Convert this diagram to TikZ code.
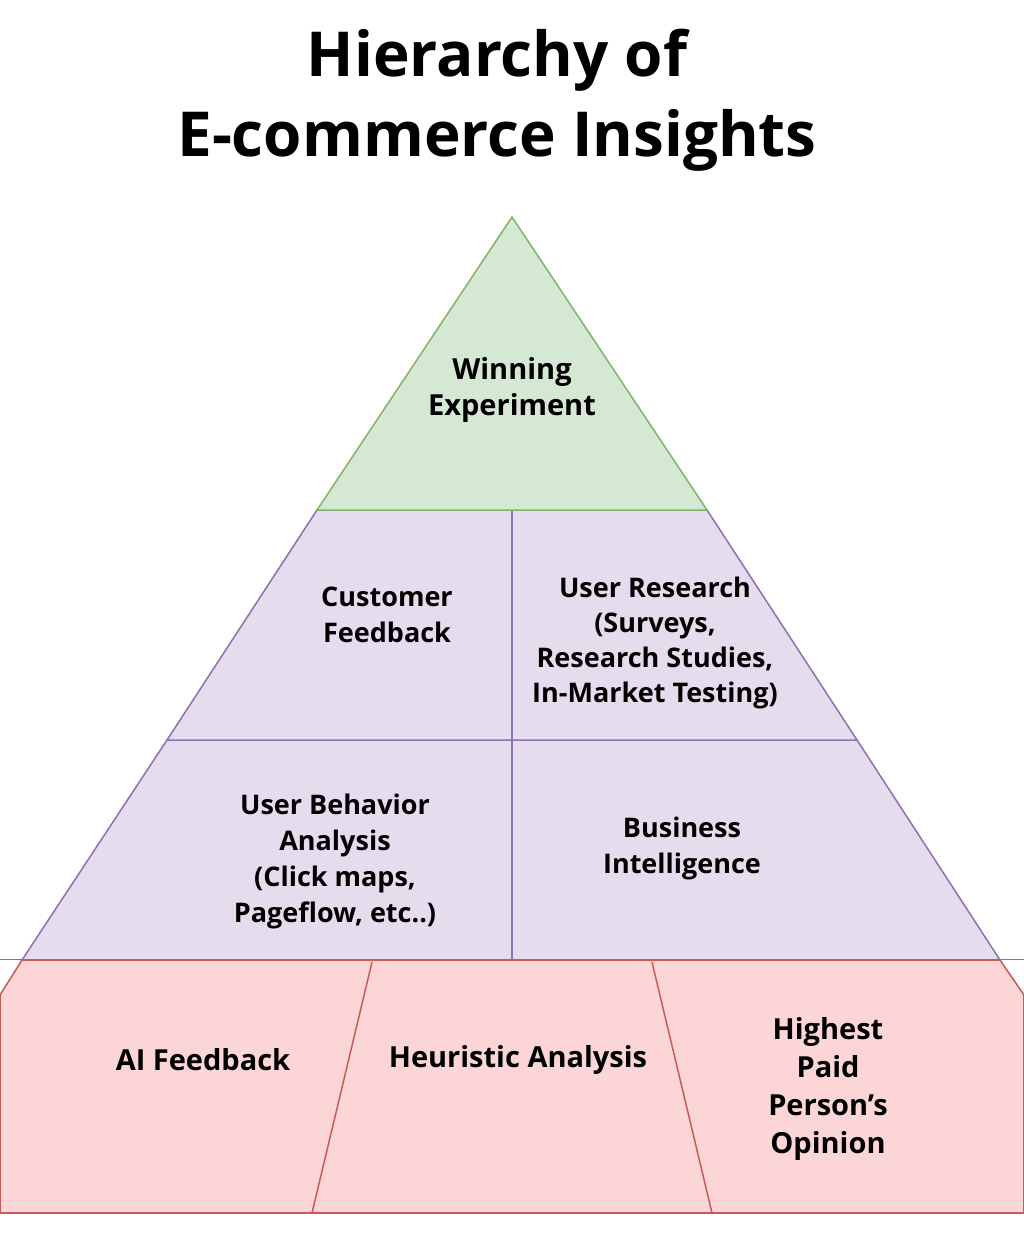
\documentclass[tikz,border=0pt]{standalone}
\usepackage{fontspec}
\setmainfont{Open Sans}
\definecolor{gf}{HTML}{D5E8D4}\definecolor{gd}{HTML}{82B366}
\definecolor{pf}{HTML}{E5DCEE}\definecolor{pd}{HTML}{8C72B0}
\definecolor{rf}{HTML}{FCD6D6}\definecolor{rd}{HTML}{C85A58}
\begin{document}
\begin{tikzpicture}[x=1pt,y=-1pt,
  lbl/.style={align=center,font=\fontsize{29}{36}\selectfont\bfseries},
  gr/.style={fill=gf,draw=gd,line width=1.5pt},
  pu/.style={fill=pf,draw=pd,line width=1.5pt},
  re/.style={fill=rf,draw=rd,line width=1.5pt}]
\useasboundingbox[fill=white] (0,0) rectangle (1024,1238);
\node[align=center,font=\fontsize{62}{80}\selectfont\bfseries] (title) at (497,100) {Hierarchy of\\E-commerce Insights};
% bottom
\coordinate (bl) at (0,1213); \coordinate (br) at (1024,1213);
\path[re] (0,960) -- (1024,960) -- (1024,995) -- (1024,1213) -- (0,1213) -- cycle;
\path[fill=white] (0,960) -- (22,960) -- (0,995) -- cycle;
\path[fill=white] (1024,960) -- (1000,960) -- (1024,995) -- cycle;
\draw[rd,line width=1.5pt] (0,995) -- (22,960) -- (1000,960) -- (1024,995);
\draw[rd,line width=1.5pt] (bl) -- (br);
\draw[rd,line width=1.5pt] (372,962) -- (312,1213) (652,962) -- (712,1213);
% row 3 and 2
\path[pu] (167,740) -- (857,740) -- (1000,960) -- (22,960) -- cycle;
\path[pu] (317,510) -- (707,510) -- (857,740) -- (167,740) -- cycle;
\draw[pd,line width=1.5pt] (512,510) -- (512,960);
\draw[rd,line width=1.5pt] (22,960) -- (1000,960);
% top
\path[gr] (512,217) -- (707,510) -- (317,510) -- cycle;
\node[lbl] (we) at (512,390) {Winning\\Experiment};
\node[lbl,font=\fontsize{27}{36}\selectfont\bfseries] (cf) at (387,615) {Customer\\Feedback};
\node[lbl,font=\fontsize{27}{35}\selectfont\bfseries] (ur) at (655,643) {User Research\\(Surveys,\\Research Studies,\\In-Market Testing)};
\node[lbl,font=\fontsize{27}{36}\selectfont\bfseries] (ub) at (335,861) {User Behavior\\Analysis\\(Click maps,\\Pageflow, etc..)};
\node[lbl,font=\fontsize{27}{36}\selectfont\bfseries] (bi) at (682,848) {Business\\Intelligence};
\node[lbl] (ai) at (203,1060) {AI Feedback};
\node[lbl] (ha) at (518,1060) {Heuristic Analysis};
\node[lbl,font=\fontsize{29}{38}\selectfont\bfseries] (hp) at (828,1089) {Highest\\Paid\\Person's\\Opinion};
\end{tikzpicture}
\end{document}
